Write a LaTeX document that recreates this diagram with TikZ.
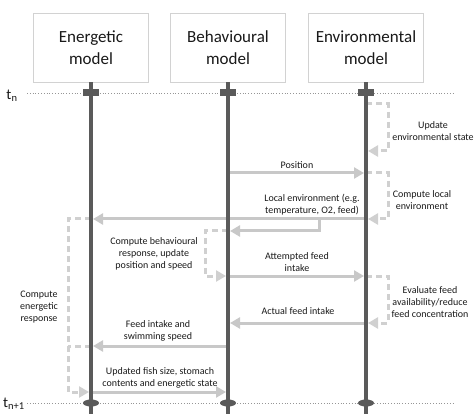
\documentclass[tikz,border=0pt]{standalone}
\usepackage{fontspec}
\setmainfont{Carlito}
\usetikzlibrary{arrows.meta, calc}

\definecolor{boxgray}{RGB}{210,210,210}
\definecolor{lifegray}{RGB}{90,90,90}
\definecolor{msggray}{RGB}{200,200,200}
\definecolor{dashgray}{RGB}{208,208,208}
\definecolor{dotgray}{RGB}{150,150,150}

\tikzset{
  model/.style={draw=boxgray, line width=0.8pt, fill=white, minimum width=115pt,
    minimum height=69pt, align=center, text=black!90, font=\fontsize{17}{22}\selectfont},
  lifeline/.style={draw=lifegray, line width=4.5pt},
  msg/.style={draw=msggray, line width=3pt, -{Triangle[length=10pt,width=11pt]}, shorten >=2pt},
  selfloop/.style={draw=dashgray, line width=3pt, dash pattern=on 6pt off 4pt,
    -{Triangle[length=10pt,width=11pt]}, shorten >=2pt},
  stub/.style={draw=dashgray, line width=3pt, dash pattern=on 6pt off 4pt},
  msglabel/.style={align=center, font=\fontsize{10}{12}\selectfont, text=black!90},
  timelabel/.style={font=\fontsize{15}{15}\selectfont, text=black!90}
}

\begin{document}
\begin{tikzpicture}[x=1pt, y=-1pt]
    \useasboundingbox (0,0) rectangle (474,414);

    % Models
    \node[model] (ene) at (91,47.5) {Energetic\\model};
    \node[model] (beh) at (228,47.5) {Behavioural\\model};
    \node[model] (env) at (366,47.5) {Environmental\\model};

    % Time steps
    \node[timelabel] (tn) at (12,96) {t\textsubscript{n}};
    \node[timelabel] (tnn) at (14,404) {t\textsubscript{n+1}};
    \coordinate (tn-e) at (455,93);
    \coordinate (tnn-e) at (455,403);
    \draw[dotgray, line width=0.8pt, dotted] (27,93) -- (tn-e);
    \draw[dotgray, line width=0.8pt, dotted] (27,403) -- (tnn-e);

    % Message end points
    \coordinate (upd-s) at (366,104);
    \coordinate (upd-e) at (366,151);
    \coordinate (pos-s) at (228,173);
    \coordinate (pos-e) at (366,173);
    \coordinate (cle-e) at (366,219);
    \coordinate (le-j) at (319,219);
    \coordinate (le-e) at (91,219);
    \coordinate (le-b) at (228,231);
    \coordinate (cbr-e) at (228,276);
    \coordinate (afi-e) at (366,276);
    \coordinate (efa-e) at (366,323);
    \coordinate (act-e) at (228,323);
    \coordinate (fis-s) at (228,346);
    \coordinate (fis-e) at (91,346);
    \coordinate (upd-f) at (91,392);

    % Self loops (dashed)
    \draw[selfloop] (upd-s) -- ++(22,0) |- (upd-e);
    \draw[selfloop] (pos-e) -- ++(22,0) |- (cle-e);
    \draw[selfloop] (afi-e) -- ++(22,0) |- (efa-e);
    \draw[selfloop] (le-b) -- ++(-23,0) |- (cbr-e);
    \draw[selfloop] (le-e) -- ++(-23,0) |- (upd-f);
    \draw[stub] (fis-e) -- ++(-23,0);

    % Messages
    \draw[msg] (pos-s) -- (pos-e);
    \draw[msg] (cle-e) -- (le-e);
    \draw[msg] (le-j) |- (le-b);
    \draw[msg] (cbr-e) -- (afi-e);
    \draw[msg] (efa-e) -- (act-e);
    \draw[msg] (fis-s) -- (fis-e);
    \draw[msg] (upd-f) -- (fis-s |- upd-f);

    % Lifelines
    \foreach \m in {ene, beh, env}{
        \draw[lifeline] (\m.south) -- (\m.south |- 0,414);
        \fill[lifegray] ($(\m.south |- tn-e)+(-8,-3.5)$) rectangle ($(\m.south |- tn-e)+(8,3.5)$);
        \fill[lifegray] (\m.south |- tnn-e) ellipse (8 and 3.5);
    }

    % Labels
    \node[msglabel] (l-upd) at (433,131) {Update\\environmental state};
    \node[msglabel] (l-pos) at (297,165) {Position};
    \node[msglabel] (l-cle) at (422,200) {Compute local\\environment};
    \node[msglabel] (l-le) at (312,205) {Local environment (e.g.\\temperature, O2, feed)};
    \node[msglabel] (l-cbr) at (154,254) {Compute behavioural\\response, update\\position and speed};
    \node[msglabel] (l-afi) at (297,262) {Attempted feed\\intake};
    \node[msglabel] (l-efa) at (430,302) {Evaluate feed\\availability/reduce\\feed concentration};
    \node[msglabel] (l-act) at (298,311) {Actual feed intake};
    \node[msglabel] (l-cer) at (39,307) {Compute\\energetic\\response};
    \node[msglabel] (l-fis) at (158,331) {Feed intake and\\swimming speed};
    \node[msglabel] (l-ufs) at (160,378) {Updated fish size, stomach\\contents and energetic state};

\end{tikzpicture}
\end{document}
